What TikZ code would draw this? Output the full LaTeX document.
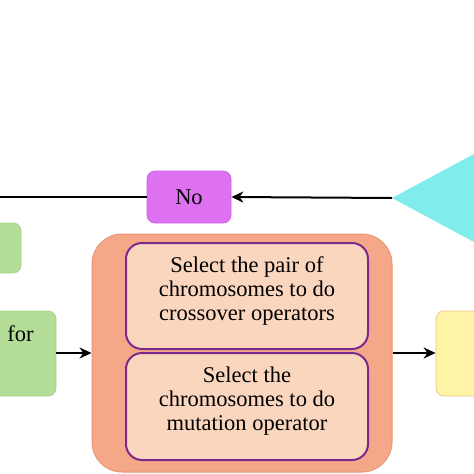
\documentclass[tikz,border=0pt]{standalone}
\usepackage{fontspec}
\setmainfont{Liberation Serif}
\usetikzlibrary{arrows.meta}
\definecolor{nomag}{RGB}{222,112,242}
\definecolor{nomagd}{RGB}{205,100,225}
\definecolor{grn}{RGB}{180,222,152}
\definecolor{grnd}{RGB}{165,210,140}
\definecolor{cyn}{RGB}{128,236,236}
\definecolor{orn}{RGB}{245,168,136}
\definecolor{ornd}{RGB}{232,150,118}
\definecolor{pch}{RGB}{251,214,190}
\definecolor{prp}{RGB}{122,42,140}
\definecolor{yel}{RGB}{255,243,165}
\definecolor{yeld}{RGB}{240,200,140}
\tikzset{
  txt/.style={font=\fontsize{22.5}{24}\selectfont, align=center, inner sep=0pt},
  smallbox/.style={rounded corners=8pt, inner sep=0pt, line width=0.8pt},
  inbox/.style={draw=prp, fill=pch, line width=2pt, rounded corners=16pt, inner sep=0pt, minimum width=242pt},
  conn/.style={line width=2pt, -{Stealth[length=12pt,width=11pt]}},
  plain/.style={line width=2pt}
}
\begin{document}
\begin{tikzpicture}[x=1pt,y=-1pt]
\useasboundingbox (0,0) rectangle (474,474);
% No box
\node[smallbox, draw=nomagd, fill=nomag, minimum width=84pt, minimum height=52pt, txt] (no) at (189,197) {No};
% diamond (cut off)
\fill[cyn] (392,198) -- (474,154) -- (474,242) -- cycle;
\coordinate (dtip) at (392,198);
\coordinate (lend) at (0,197);
% green boxes
\node[smallbox, draw=grnd, fill=grn, minimum width=40pt, minimum height=50pt] (g1) at (1,248) {};
\node[smallbox, draw=grnd, fill=grn, minimum width=76pt, minimum height=85pt] (g2) at (18,353.5) {};
\node[txt] (fortxt) at (20.5,334) {for};
% orange outer
\node[draw=ornd, fill=orn, line width=1pt, rounded corners=30pt, minimum width=300pt, minimum height=238pt, inner sep=0pt] (outer) at (242,353) {};
% inner boxes
\node[inbox, minimum height=106pt] (in1) at (247,296) {};
\node[txt] at (247,291) {Select the pair of\\chromosomes to do\\crossover operators};
\node[inbox, minimum height=107pt] (in2) at (247,406.5) {};
\node[txt] at (247,401) {Select the\\chromosomes to do\\mutation operator};
% yellow box
\node[smallbox, draw=yeld, fill=yel, minimum width=80pt, minimum height=85pt] (yb) at (476,353.5) {};
% connectors
\draw[conn] (dtip) -- (no.east);
\draw[plain] (no.west) -- (lend);
\draw[conn] (g2.east |- 0,353) -- (outer.west |- 0,353);
\draw[conn] (outer.east |- 0,353) -- (yb.west |- 0,353);
\end{tikzpicture}
\end{document}
